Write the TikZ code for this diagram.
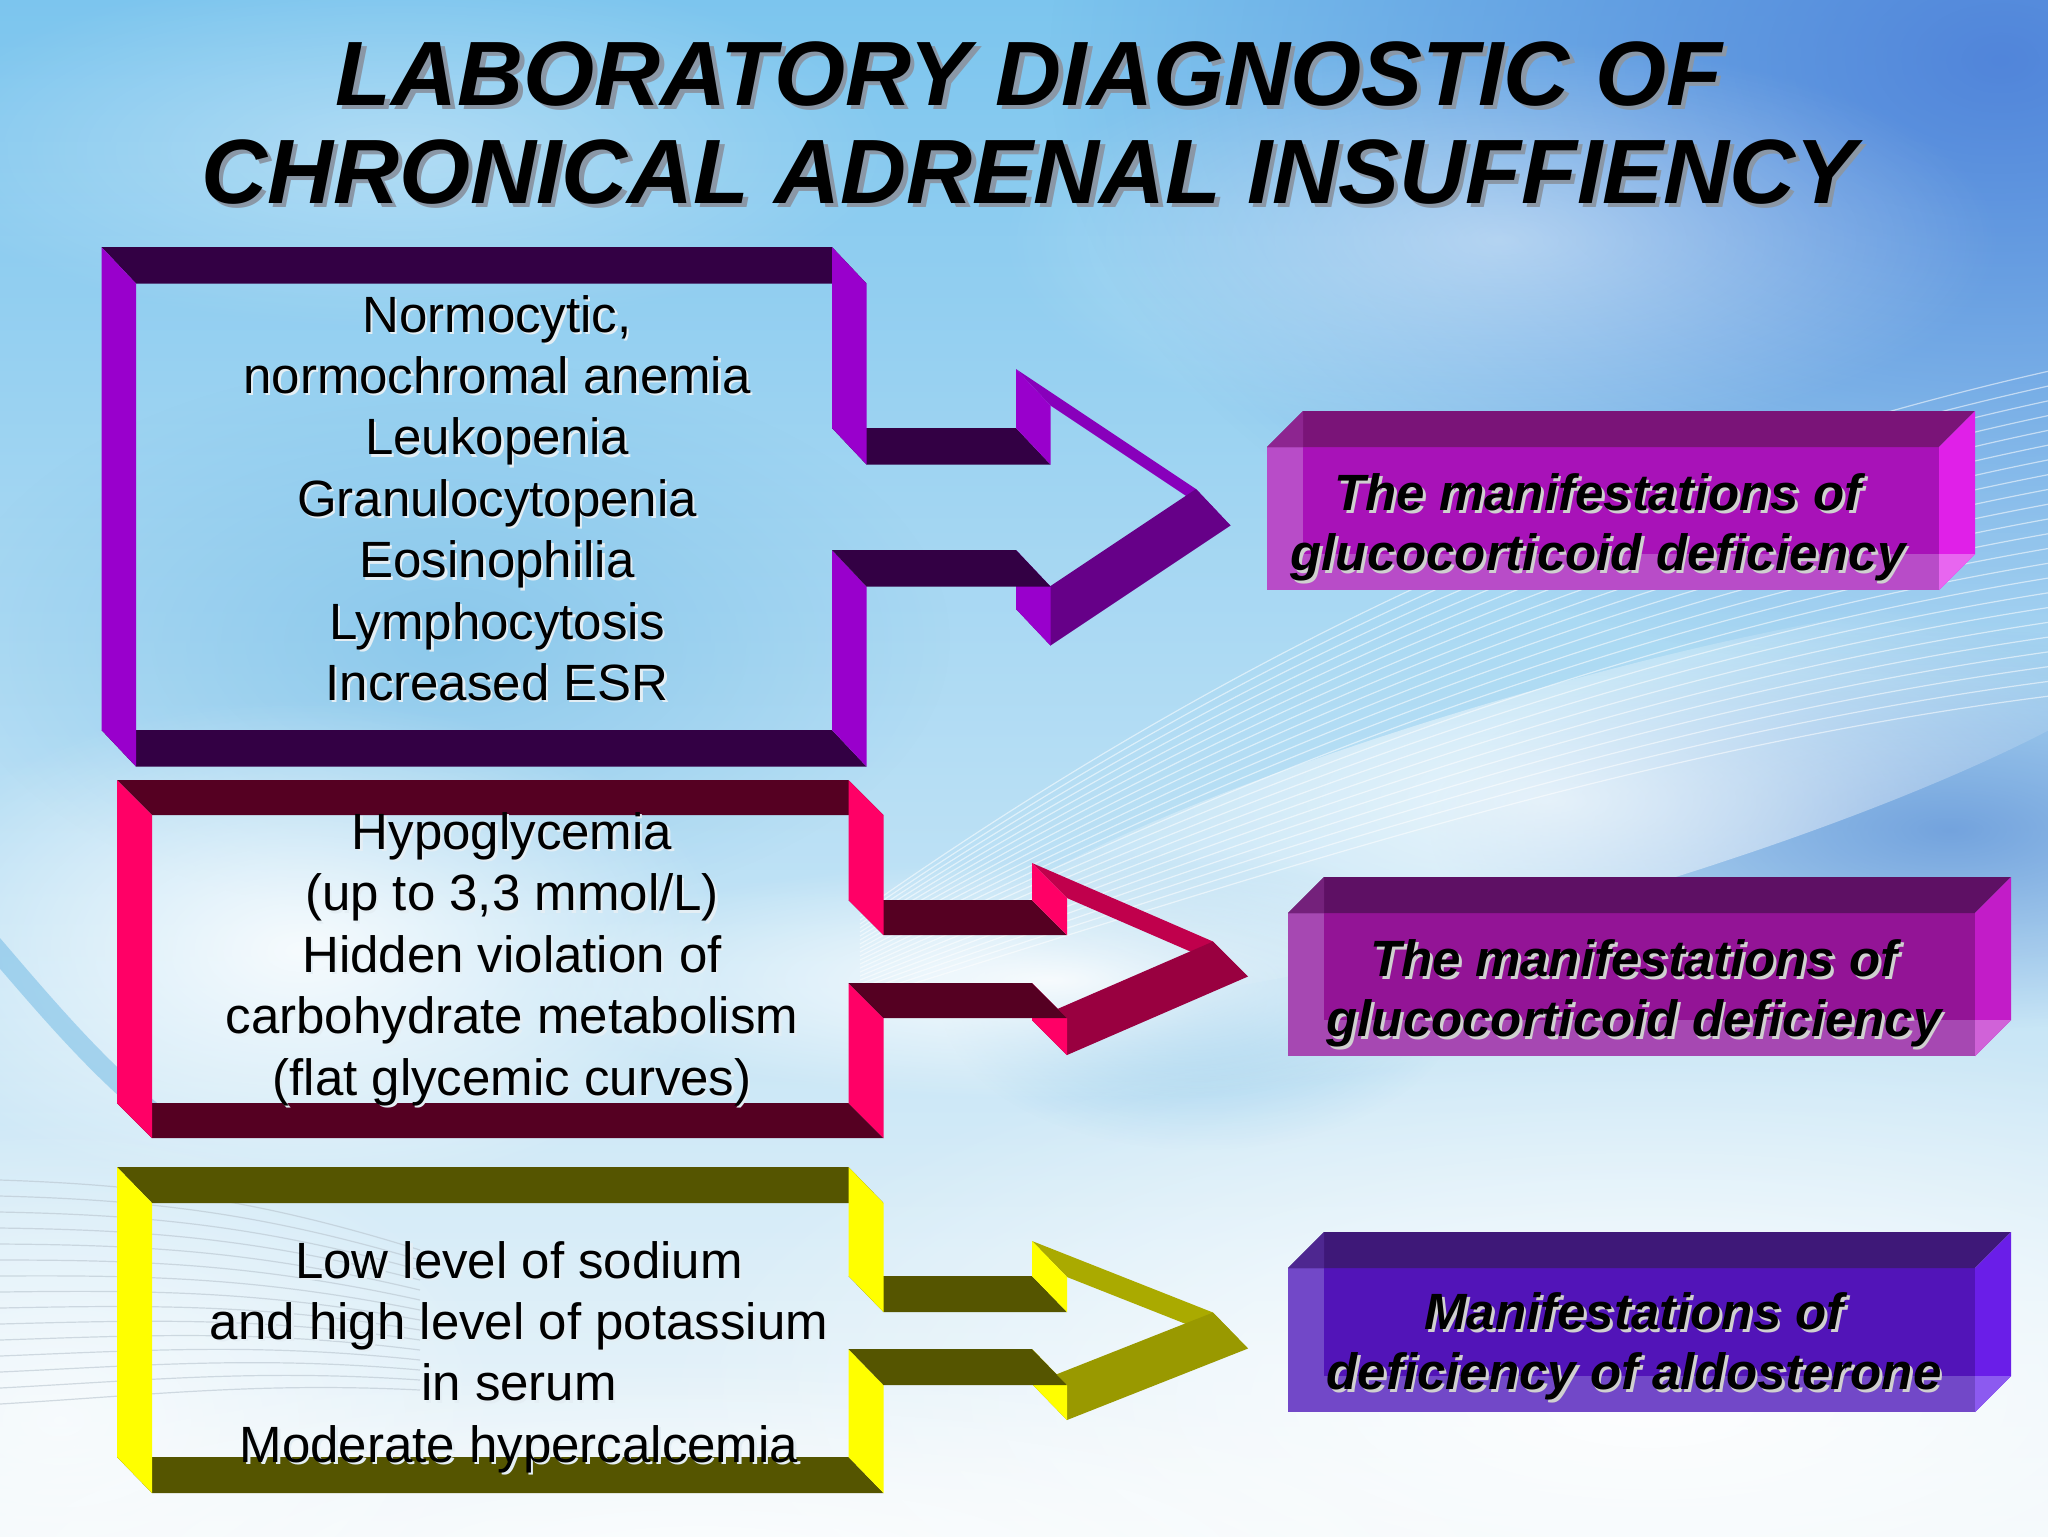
\documentclass[tikz,border=0pt]{standalone}
\usepackage{fontspec}
\setmainfont{Liberation Sans}
\usetikzlibrary{calc,fadings}

\definecolor{bgtop}{HTML}{7CC5EE}
\definecolor{bgmid}{HTML}{A6DBF4}
\definecolor{bgbot}{HTML}{EEF6FA}
\definecolor{bgblue}{HTML}{4C7ED8}
\definecolor{bgmidblue}{HTML}{5C8FD6}
\definecolor{bgswoosh}{HTML}{6DB8E4}
\definecolor{bgline}{HTML}{B8C4CE}

\definecolor{bAdark}{HTML}{330044}
\definecolor{bAbright}{HTML}{9900CC}
\definecolor{bAup}{HTML}{8800BB}
\definecolor{bAlow}{HTML}{660088}
\definecolor{bBdark}{HTML}{550022}
\definecolor{bBbright}{HTML}{FF0066}
\definecolor{bBup}{HTML}{C0004C}
\definecolor{bBlow}{HTML}{990040}
\definecolor{bCdark}{HTML}{555500}
\definecolor{bCbright}{HTML}{FFFF00}
\definecolor{bCup}{HTML}{AAAA00}
\definecolor{bClow}{HTML}{999900}

\definecolor{rAfl}{HTML}{B84CC8}
\definecolor{rAfd}{HTML}{A812B8}
\definecolor{rAtop}{HTML}{7A1478}
\definecolor{rAside}{HTML}{E020E8}
\definecolor{rAsl}{HTML}{E866F0}
\definecolor{rBfl}{HTML}{A648B2}
\definecolor{rBfd}{HTML}{931496}
\definecolor{rBtop}{HTML}{5E1064}
\definecolor{rBside}{HTML}{C21CC8}
\definecolor{rBsl}{HTML}{D062D8}
\definecolor{rCfl}{HTML}{7248C8}
\definecolor{rCfd}{HTML}{5214B8}
\definecolor{rCtop}{HTML}{3E1878}
\definecolor{rCside}{HTML}{6A1EE8}
\definecolor{rCsl}{HTML}{8C5AF0}

\definecolor{titleshadow}{HTML}{8A97A6}
\definecolor{bodyshadow}{HTML}{E4EEF4}
\definecolor{boxshadow}{HTML}{D0D0D0}

\tikzfading[name=softblob, inner color=transparent!0, outer color=transparent!100]

\tikzset{
  bodytxt/.style={align=center, inner sep=0pt, text=black,
    font=\fontsize{12.75}{15.35}\selectfont},
  boxtxt/.style={align=center, inner sep=0pt, text=black,
    font=\fontsize{12.75}{15}\selectfont\bfseries\itshape},
  titletxt/.style={align=center, inner sep=0pt, text=black,
    font=\fontsize{22.85}{24.5}\selectfont\bfseries\itshape},
  streak/.style={white, opacity=0.55, line width=0.3pt},
  leftline/.style={bgline, opacity=0.6, line width=0.3pt},
}

% one wall of an extruded ribbon: from #2 to #3, pushed back by (\rbdx,\rbdy)
\newcommand\rface[3]{\fill[#1] (#2) -- (#3) -- ($(#3)+(\rbdx,\rbdy)$) -- ($(#2)+(\rbdx,\rbdy)$) -- cycle;}

% corner points of a frame with an arrow; head half height in \rbhead
\newcommand\ribbonpts[9]{%
  \pgfmathsetmacro\rbmid{(#7+#8)/2}%
  \coordinate (#1A) at (#2,#3);
  \coordinate (#1B) at (#4,#3);
  \coordinate (#1C) at (#4,#7);
  \coordinate (#1D) at (#5,#7);
  \coordinate (#1E) at (#5,\rbmid-\rbhead);
  \coordinate (#1T) at (#6,\rbmid);
  \coordinate (#1F) at (#5,\rbmid+\rbhead);
  \coordinate (#1G) at (#5,#8);
  \coordinate (#1H) at (#4,#8);
  \coordinate (#1I) at (#4,#9);
  \coordinate (#1J) at (#2,#9);
}
\newcommand\ribbonframe[5]{%
  \rface{#2}{#1A}{#1B}
  \rface{#2}{#1C}{#1D}
  \rface{#2}{#1I}{#1J}
  \rface{#4}{#1E}{#1T}
  \rface{#5}{#1T}{#1F}
  \rface{#3}{#1B}{#1C}
  \rface{#3}{#1D}{#1E}
  \rface{#3}{#1F}{#1G}
  \rface{#3}{#1H}{#1I}
  \rface{#3}{#1J}{#1A}
  \rface{#2}{#1G}{#1H}
}
% transparent looking cuboid: front x #1..#3, y #2..#4 ; depth \cbd
\newcommand\cuboid[8]{%
  \fill[#5] (#1,#2) rectangle (#3,#4);
  \fill[#6] (#1+\cbd,#2) rectangle (#3,#4-\cbd);
  \fill[#7] (#1,#2) -- (#1+\cbd,#2-\cbd) -- (#3+\cbd,#2-\cbd) -- (#3,#2) -- cycle;
  \fill[#7!70!#5] (#1,#2) -- (#1+\cbd,#2-\cbd) -- (#1+\cbd,#2) -- cycle;
  \fill[#8] (#3,#2) -- (#3+\cbd,#2-\cbd) -- (#3+\cbd,#4-\cbd) -- (#3,#4) -- cycle;
}
\newcommand\shadowtext[6]{%
  \node[#1, text=#4, xshift=#5, yshift=-#5] (#2-sh) at (#3) {#6};
  \node[#1] (#2) at (#3) {#6};
}

\begin{document}
\begin{tikzpicture}[x=0.25pt,y=-0.25pt]
\useasboundingbox (0,0) rectangle (2048,1536);
% ---------------- background
\begin{scope}
\clip (0,0) rectangle (2048,1536);
\shade[top color=bgtop, middle color=bgmid, bottom color=bgbot] (0,0) rectangle (2048,1536);
\fill[bgblue, path fading=softblob, opacity=0.9] (2000,60) ellipse [x radius=950, y radius=620];
\fill[bgmidblue, path fading=softblob, opacity=0.75] (1950,830) ellipse [x radius=520, y radius=200];
\fill[bgswoosh, path fading=softblob, opacity=0.6] (1200,1000) ellipse [x radius=260, y radius=150];
\fill[bgswoosh, path fading=softblob, opacity=0.5] (450,640) ellipse [x radius=500, y radius=280];
% pale lower part
\fill[white, path fading=softblob, opacity=0.95] (1650,1400) ellipse [x radius=1000, y radius=380];
\fill[white, path fading=softblob, opacity=0.8] (700,1560) ellipse [x radius=900, y radius=200];
% white glow sheet
\fill[white, path fading=softblob, opacity=0.9] (1050,980) ellipse [x radius=520, y radius=120];
\fill[white, path fading=softblob, opacity=0.7, rotate around={16:(1550,800)}] (1550,800) ellipse [x radius=650, y radius=110];
\fill[white, path fading=softblob, opacity=0.85] (300,950) ellipse [x radius=430, y radius=250];
\fill[white, path fading=softblob, opacity=0.7] (60,1420) ellipse [x radius=450, y radius=300];
\fill[white, path fading=softblob, opacity=0.45] (1500,240) ellipse [x radius=500, y radius=200];
\fill[white, path fading=softblob, opacity=0.35] (400,150) ellipse [x radius=500, y radius=180];
% blue swoosh at the left
\draw[bgswoosh, line width=5pt, opacity=0.5, line cap=round] (-20,930) .. controls (40,1000) and (90,1060) .. (150,1110);
% fine streaks
\foreach \i in {0,...,22}
  \draw[streak] (860,1000-\i*4) .. controls (1250,880-\i*11) and (1650,740-\i*13) .. (2100,690-\i*15);
\foreach \i in {0,...,14}
  \draw[leftline] (0,1180+\i*16) .. controls (150,1185+\i*15) and (260,1200+\i*13) .. (420,1250+\i*10);
\end{scope}

% ---------------- frames with arrows
\def\rbdx{34.5}\def\rbdy{36.5}\def\rbhead{120}
\ribbonpts{p}{101.5}{247}{832}{1016}{1196}{428}{550}{730}
\ribbonframe{p}{bAdark}{bAbright}{bAup}{bAlow}

\def\rbdx{35}\def\rbdy{35}\def\rbhead{78.5}
\ribbonpts{q}{117}{780}{848.5}{1032}{1213}{900}{983}{1103}
\ribbonframe{q}{bBdark}{bBbright}{bBup}{bBlow}

\def\rbdx{35}\def\rbdy{36}\def\rbhead{71.5}
\ribbonpts{r}{117}{1167}{848.5}{1032}{1213}{1276}{1349}{1457}
\ribbonframe{r}{bCdark}{bCbright}{bCup}{bClow}

% ---------------- result boxes
\def\cbd{36}
\cuboid{1267}{447}{1939}{590}{rAfl}{rAfd}{rAtop}{rAside}
\fill[rAsl] (1939,554) -- (1975,554) -- (1939,590) -- cycle;
\cuboid{1288}{913}{1975}{1056}{rBfl}{rBfd}{rBtop}{rBside}
\fill[rBsl] (1975,1020) -- (2011,1020) -- (1975,1056) -- cycle;
\cuboid{1288}{1268}{1975}{1412}{rCfl}{rCfd}{rCtop}{rCside}
\fill[rCsl] (1975,1376) -- (2011,1376) -- (1975,1412) -- cycle;

% ---------------- texts
\shadowtext{titletxt}{title}{1029,123}{titleshadow}{1.1pt}{LABORATORY DIAGNOSTIC OF\\CHRONICAL ADRENAL INSUFFIENCY}

\shadowtext{bodytxt}{blood}{497,498}{bodyshadow}{0.6pt}{Normocytic,\\normochromal anemia\\Leukopenia\\Granulocytopenia\\Eosinophilia\\Lymphocytosis\\Increased ESR}
\shadowtext{bodytxt}{sugar}{512,959}{bodyshadow}{0.6pt}{Hypoglycemia\\(up to 3,3 mmol/L)\\Hidden violation of\\carbohydrate metabolism\\(flat glycemic curves)}
\shadowtext{bodytxt}{salt}{519,1357}{bodyshadow}{0.6pt}{Low level of sodium\\and high level of potassium\\in serum\\Moderate hypercalcemia}

\shadowtext{boxtxt}{glucoA}{1598,527}{boxshadow}{0.7pt}{The manifestations of\\glucocorticoid deficiency}
\shadowtext{boxtxt}{glucoB}{1634,993}{boxshadow}{0.7pt}{The manifestations of\\glucocorticoid deficiency}
\shadowtext{boxtxt}{aldo}{1634,1346}{boxshadow}{0.7pt}{Manifestations of\\deficiency of aldosterone}
\end{tikzpicture}
\end{document}
